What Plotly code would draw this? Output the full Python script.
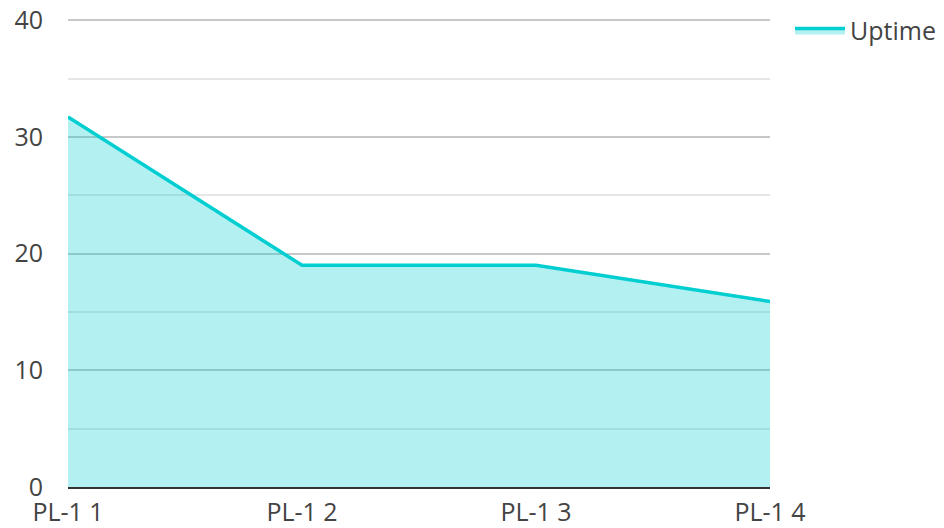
import plotly.graph_objects as go

# Uptime per production line
categories = ["PL-1 1", "PL-1 2", "PL-1 3", "PL-1 4"]
uptime = [31.7, 19, 19, 15.9]

line_color = "#00CED1"
fill_color = "rgba(0,206,209,0.3)"
text_color = "#444444"
font_family = "Open Sans, Noto Sans, sans-serif"
font_size = 25

fig = go.Figure()
fig.add_trace(go.Scatter(
    x=categories,
    y=uptime,
    name="Uptime",
    mode="lines",
    line=dict(color=line_color, width=3.5),
    fill="tozeroy",
    fillcolor=fill_color,
))

fig.update_layout(
    width=944,
    height=528,
    margin=dict(l=68, r=174, t=19, b=41, autoexpand=False),
    paper_bgcolor="white",
    plot_bgcolor="white",
    font=dict(family=font_family, size=font_size, color=text_color),
    showlegend=True,
    legend=dict(
        x=1.0285, xanchor="left", xref="paper",
        y=0.975, yanchor="middle",
        itemwidth=50,
        font=dict(size=font_size, color=text_color),
        bgcolor="rgba(0,0,0,0)",
    ),
    xaxis=dict(
        type="category",
        range=[0, 3],
        showgrid=False,
        showline=True,
        linecolor="#333333",
        linewidth=2,
        ticks="",
        tickfont=dict(size=font_size, color=text_color),
        ticklabelstandoff=2,
        zeroline=False,
        automargin=False,
        fixedrange=True,
    ),
    yaxis=dict(
        range=[0, 40.1],
        dtick=10,
        showgrid=True,
        gridcolor="#c8c8c8",
        gridwidth=1.5,
        minor=dict(dtick=5, showgrid=True, gridcolor="#e6e6e6", gridwidth=1.5),
        zeroline=False,
        showline=False,
        ticks="",
        tickfont=dict(size=font_size, color=text_color),
        ticklabelstandoff=24,
        automargin=False,
        fixedrange=True,
    ),
)

fig.write_html("out.html")
